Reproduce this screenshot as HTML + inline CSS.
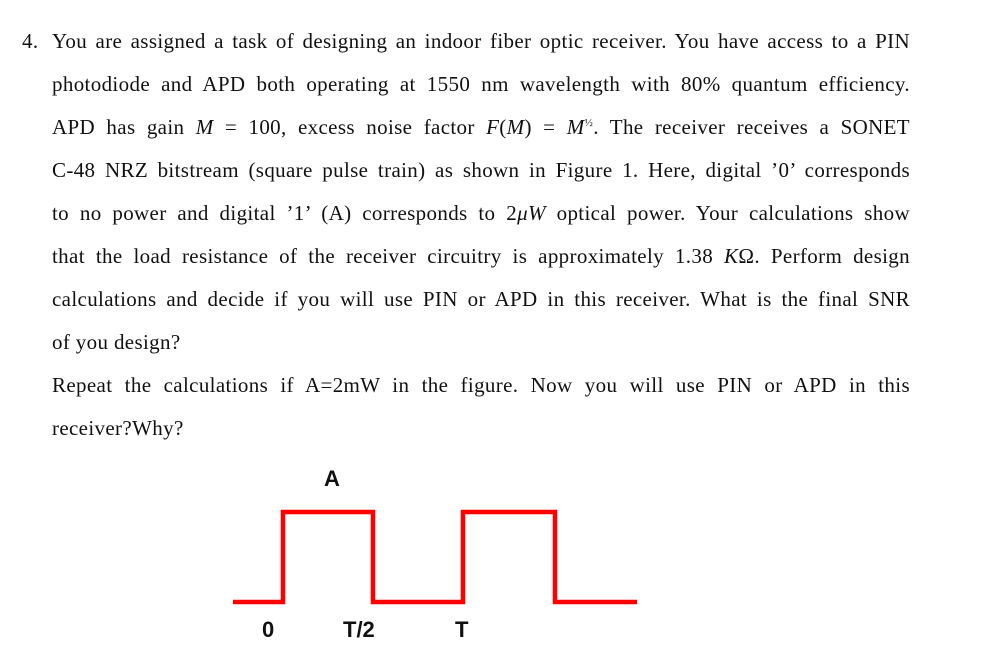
<!DOCTYPE html>
<html><head><meta charset="utf-8"><style>
body{margin:0;width:988px;height:659px;background:#fff;position:relative;font-family:"Liberation Serif",serif;font-size:21px;letter-spacing:0.35px;color:#111;overflow:hidden}
.l{position:absolute;left:52px;width:858px;white-space:nowrap;line-height:24px;height:24px}
.j{text-align:justify;text-align-last:justify;white-space:normal}
.n{position:absolute;left:22px}
i{font-style:italic}
sup{font-size:11px;line-height:0;vertical-align:8px}
.lab{position:absolute;font-family:"Liberation Sans",sans-serif;font-weight:bold;font-size:22px;letter-spacing:0;color:#111}
</style></head><body>
<div class="n" style="top:29px;line-height:24px">4.</div>
<div class="l j" style="top:29px">You are assigned a task of designing an indoor fiber optic receiver. You have access to a PIN</div>
<div class="l j" style="top:72px">photodiode and APD both operating at 1550 nm wavelength with 80% quantum efficiency.</div>
<div class="l j" style="top:115px">APD has gain <i>M</i> = 100, excess noise factor <i>F</i>(<i>M</i>) = <i>M</i><sup>½</sup>. The receiver receives a SONET</div>
<div class="l j" style="top:158px">C-48 NRZ bitstream (square pulse train) as shown in Figure 1. Here, digital ’0’ corresponds</div>
<div class="l j" style="top:201px">to no power and digital ’1’ (A) corresponds to 2<i>μW</i> optical power. Your calculations show</div>
<div class="l j" style="top:244px">that the load resistance of the receiver circuitry is approximately 1.38 <i>K</i>Ω. Perform design</div>
<div class="l j" style="top:287px">calculations and decide if you will use PIN or APD in this receiver. What is the final SNR</div>
<div class="l" style="top:330px">of you design?</div>
<div class="l j" style="top:373px">Repeat the calculations if A=2mW in the figure. Now you will use PIN or APD in this</div>
<div class="l" style="top:416px">receiver?Why?</div>
<svg style="position:absolute;left:0;top:0" width="988" height="659">
<polyline points="233,602 283,602 283,512 373,512 373,602 463,602 463,512 555,512 555,602 637,602" fill="none" stroke="#f00" stroke-width="4.5"/>
</svg>
<div class="lab" style="left:324px;top:466px">A</div>
<div class="lab" style="left:262px;top:617px">0</div>
<div class="lab" style="left:343px;top:617px">T/2</div>
<div class="lab" style="left:455px;top:617px">T</div>
</body></html>
